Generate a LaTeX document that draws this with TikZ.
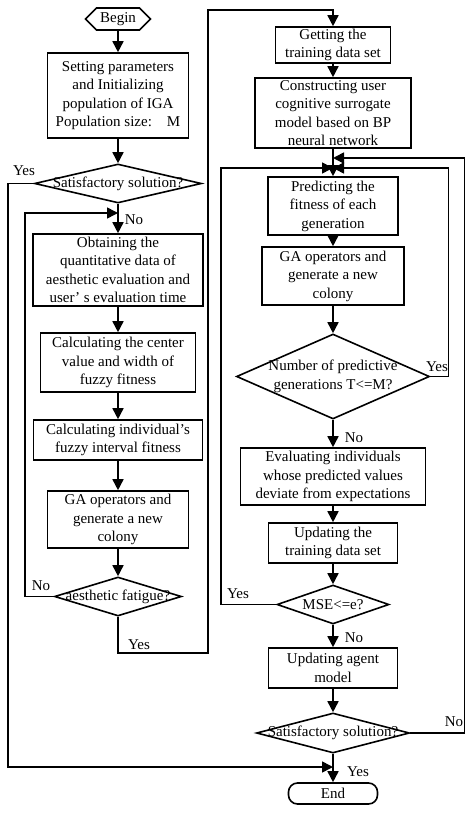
\documentclass[tikz,border=0pt]{standalone}
\usepackage{fontspec}
\setmainfont{Liberation Serif}
\usetikzlibrary{positioning,arrows.meta,shapes.geometric,shapes.symbols}
\newcommand{\dtext}[1]{\makebox[0pt]{#1}}

\begin{document}
\begin{tikzpicture}[x=1pt, y=-1pt,
					every node/.style={font=\fontsize{15}{18.5}\selectfont},
					box/.style={
						draw=black, line width=1.6pt, align=center,
						inner sep=1pt, anchor=center
					},
					decide/.style={
						diamond, draw=black, line width=1.6pt,
						inner sep=0pt, anchor=center
					},
					arr/.style={line width=1.6pt, -{Triangle[length=11pt,width=11pt]}}
					]
					\useasboundingbox (0,0) rectangle (474,813);
					% left column
					\node[box, signal, signal to=east and west, minimum width=65, minimum height=22] (begin) at (118,19) {Begin};
					\node[box, minimum width=141, minimum height=85] (set) at (118,95.5) {Setting parameters\\and Initializing\\population of IGA\\Population size:\quad M};
					\node[decide, minimum width=167, minimum height=39] (sat1) at (118,183.5) {\dtext{Satisfactory solution?}};
					\node[box, minimum width=170, minimum height=72] (obtain) at (118,270) {Obtaining the\\quantitative data of\\aesthetic evaluation and\\user’ s evaluation time};
					\node[box, minimum width=155, minimum height=59] (center) at (118,362.5) {Calculating the center\\value and width of\\fuzzy fitness};
					\node[box, minimum width=169, minimum height=40] (indiv) at (118,440) {Calculating individual’s\\fuzzy interval fitness};
					\node[box, minimum width=141, minimum height=57] (ga1) at (118,519.5) {GA operators and\\generate a new\\colony};
					\node[decide, minimum width=127, minimum height=39] (fatigue) at (118,596.5) {\dtext{aesthetic fatigue?}};
					% right column
					\node[box, minimum width=115, minimum height=36] (getting) at (333,45) {Getting the\\training data set};
					\node[box, minimum width=156, minimum height=70] (construct) at (333,113) {Constructing user\\cognitive surrogate\\model based on BP\\neural network};
					\node[box, minimum width=130, minimum height=58] (predict) at (333,206) {Predicting the\\fitness of each\\generation};
					\node[box, minimum width=142, minimum height=58] (ga2) at (333,276) {GA operators and\\generate a new\\colony};
					\node[decide, minimum width=193, minimum height=85] (npg) at (333,376.5) {\dtext{\begin{tabular}{@{}c@{}}Number of predictive\\generations T<=M?\end{tabular}}};
					\node[box, minimum width=185, minimum height=57] (evaluate) at (333,476.5) {Evaluating individuals\\whose predicted values\\deviate from expectations};
					\node[box, minimum width=129, minimum height=40] (update) at (333,543) {Updating the\\training data set};
					\node[decide, minimum width=112, minimum height=39] (mse) at (333,604.5) {\dtext{MSE<=e?}};
					\node[box, minimum width=129, minimum height=40] (agent) at (333,668) {Updating agent\\model};
					\node[decide, minimum width=153, minimum height=40] (sat2) at (333,733) {\dtext{Satisfactory solution?}};
					\node[box, rounded corners=9pt, minimum width=89, minimum height=21] (end) at (333,793.5) {End};
					% join points
					\coordinate (lp) at (118,213);
					\coordinate (m1) at (333,158);
					\coordinate (m2) at (333,168);
					\coordinate (endin) at (333,767);
					% branch labels
					\node (yes1) at (24,171) {Yes};
					\node (no1) at (134,220) {No};
					\node (no2) at (41,586) {No};
					\node (yes2) at (139,645) {Yes};
					\node (yes3) at (437,367) {Yes};
					\node (no3) at (354,438) {No};
					\node (yes4) at (238,594) {Yes};
					\node (no4) at (354,638) {No};
					\node (no5) at (454,722) {No};
					\node (yes5) at (358,772) {Yes};
					% left flow
					\draw[arr] (begin.south) -- (set.north);
					\draw[arr] (set.south) -- (sat1.north);
					\draw[arr] (sat1.south) -- (obtain.north);
					\draw[arr] (obtain.south) -- (center.north);
					\draw[arr] (center.south) -- (indiv.north);
					\draw[arr] (indiv.south) -- (ga1.north);
					\draw[arr] (ga1.south) -- (fatigue.north);
					\draw[arr] (fatigue.west) -- ++(-29,0) |- (lp);
					\draw[arr] (sat1.west) -- ++(-26,0) |- (endin);
					\draw[arr] (fatigue.south) |- (208,653) -- (208,10) -| (getting.north);
					% right flow
					\draw[arr] (getting.south) -- (construct.north);
					\draw[arr] (construct.south) -- (predict.north);
					\draw[arr] (predict.south) -- (ga2.north);
					\draw[arr] (ga2.south) -- (npg.north);
					\draw[arr] (npg.south) -- (evaluate.north);
					\draw[arr] (evaluate.south) -- (update.north);
					\draw[arr] (update.south) -- (mse.north);
					\draw[arr] (mse.south) -- (agent.north);
					\draw[arr] (agent.south) -- (sat2.north);
					\draw[arr] (sat2.south) -- (end.north);
					\draw[arr] (npg.east) -- ++(18,0) |- (m2);
					\draw[arr] (mse.west) -- ++(-55,0) |- (m2);
					\draw[arr] (sat2.east) -- ++(54,0) |- (m1);
				\end{tikzpicture}
\end{document}
